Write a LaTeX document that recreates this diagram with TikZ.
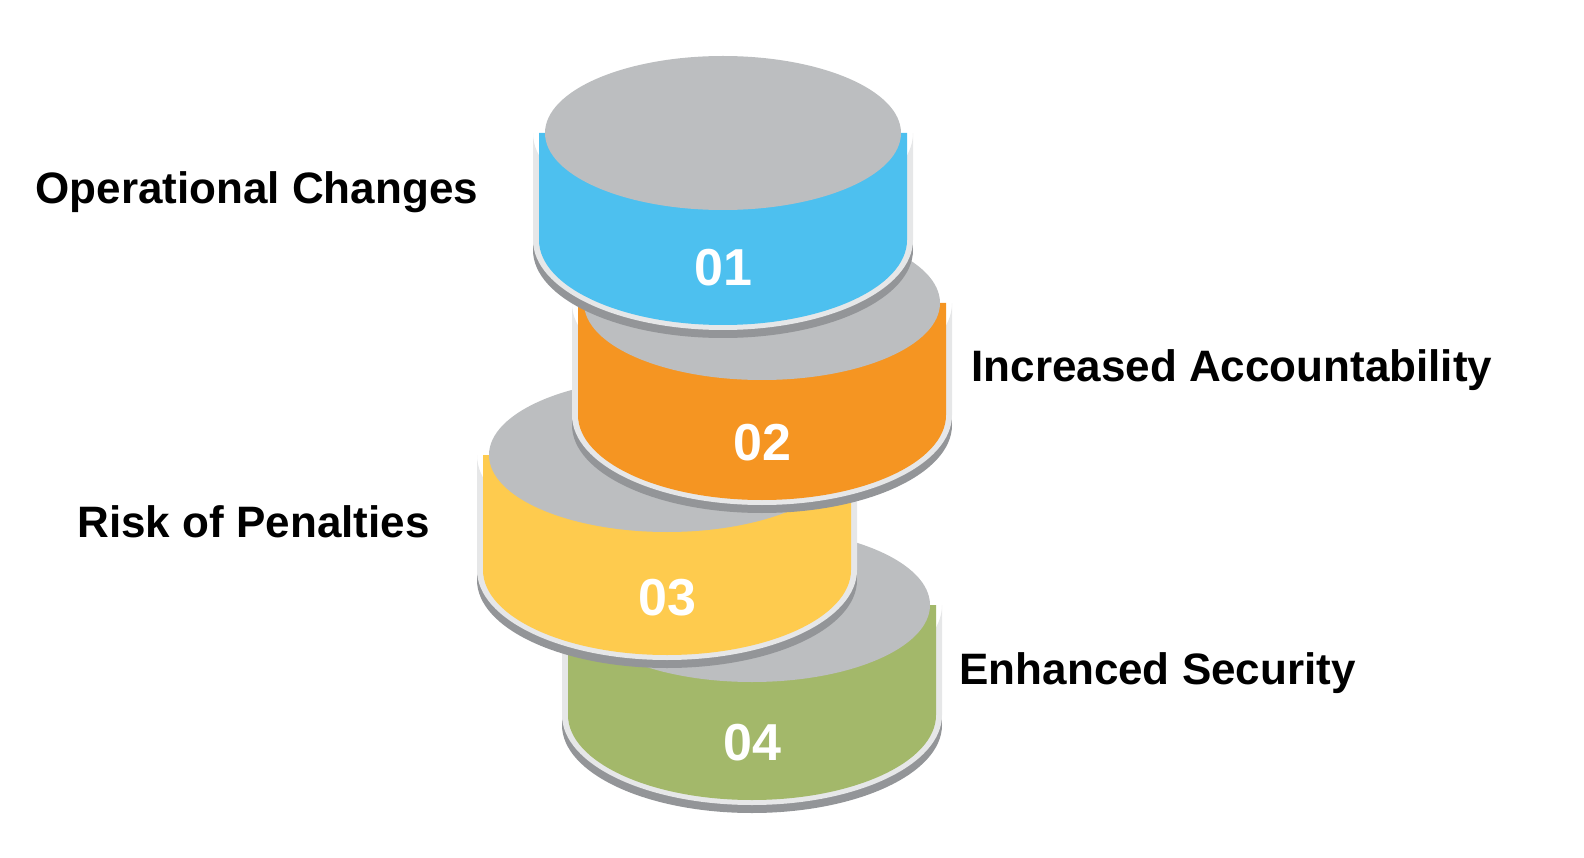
\documentclass[tikz,border=0pt]{standalone}
\usepackage{fontspec}
\setmainfont{Liberation Sans}
\definecolor{rimc}{HTML}{E6E7E8}
\definecolor{topc}{HTML}{BCBEC0}
\definecolor{shc}{HTML}{939598}
\definecolor{c1}{HTML}{4DC0EF}
\definecolor{c2}{HTML}{F59522}
\definecolor{c3}{HTML}{FECB4E}
\definecolor{c4}{HTML}{A3B86A}
\newcommand{\mycoin}[5]{%
 % #1 cx, #2 top cy, #3 bottom cy, #4 colour, #5 number
 \fill[shc] (#1,#3+10) ellipse [x radius=190,y radius=88];
 \fill[rimc] (#1-190,#2) -- (#1-190,#3) arc[start angle=180,end angle=360,x radius=190,y radius=-90] -- (#1+190,#2) arc[start angle=0,end angle=180,x radius=190,y radius=90] -- cycle;
 \fill[#4] (#1-184,#2) -- (#1-184,#3) arc[start angle=180,end angle=360,x radius=184,y radius=-85] -- (#1+184,#2) -- cycle;
 \fill[topc] (#1,#2) ellipse [x radius=178,y radius=77];
 \node[numtxt] (n#5) at (#1,#3+28) {#5};
}
\begin{document}
\begin{tikzpicture}[x=1pt,y=-1pt,
 numtxt/.style={text=white,font=\fontsize{52}{56}\selectfont\bfseries},
 lbl/.style={font=\fontsize{44}{50}\selectfont\bfseries,text=black}]
\useasboundingbox (0,0) rectangle (1584,858);
\mycoin{752}{605}{715}{c4}{04}
\mycoin{667}{455}{570}{c3}{03}
\mycoin{762}{303}{415}{c2}{02}
\mycoin{723}{133}{240}{c1}{01}
\node[lbl,anchor=west] (l1) at (32,192) {Operational Changes};
\node[lbl,anchor=west] (l2) at (968,370) {Increased Accountability};
\node[lbl,anchor=west] (l3) at (74,522) {Risk of Penalties};
\node[lbl,anchor=west] (l4) at (956,673) {Enhanced Security};
\end{tikzpicture}
\end{document}
